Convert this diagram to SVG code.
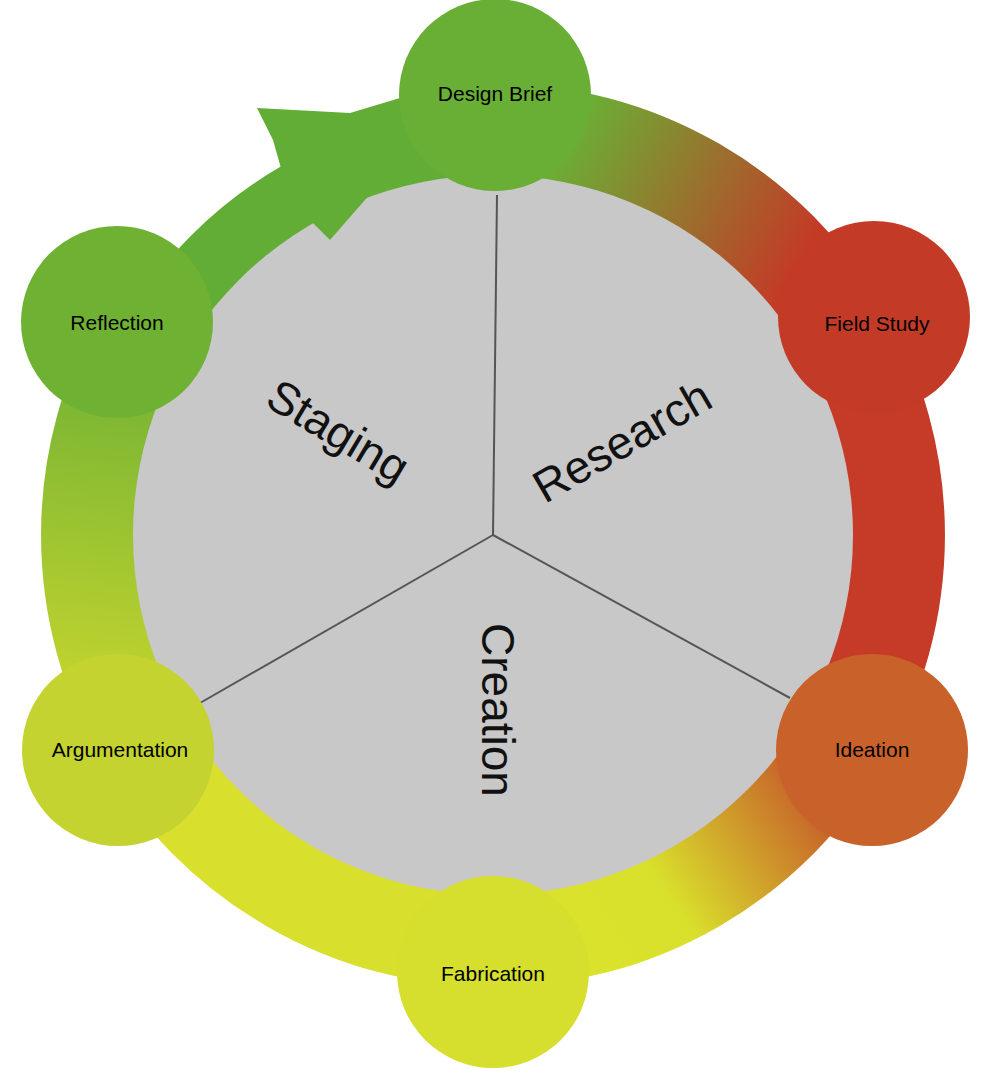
<svg xmlns="http://www.w3.org/2000/svg" width="983" height="1084" viewBox="0 0 983 1084">
<defs>
<linearGradient id="g1" gradientUnits="userSpaceOnUse" x1="570" y1="130" x2="800" y2="260"><stop offset="0" stop-color="#6aaf35"/><stop offset="1" stop-color="#c33b27"/></linearGradient>
<linearGradient id="g3" gradientUnits="userSpaceOnUse" x1="810" y1="790" x2="600" y2="930"><stop offset="0" stop-color="#c6602a"/><stop offset="0.7" stop-color="#d9e02c"/><stop offset="1" stop-color="#dbe22c"/></linearGradient>
<linearGradient id="g5" gradientUnits="userSpaceOnUse" x1="90" y1="700" x2="130" y2="360"><stop offset="0" stop-color="#c4d52e"/><stop offset="1" stop-color="#72b234"/></linearGradient>
<style>
.ring{fill:none;stroke-width:94}
.node{stroke:none}
.lbl{font-family:"Liberation Sans",Arial,sans-serif;font-size:21px;fill:#000;text-anchor:middle}
.big{font-family:"Liberation Sans",Arial,sans-serif;font-size:46px;fill:#111;text-anchor:middle}
</style>
</defs>
<rect width="983" height="1084" fill="#fff"/>
<g id="connectors">
<path class="ring" stroke="url(#g1)" d="M493 130 A405 405 0 0 1 843.7 332.5"/>
<path class="ring" stroke="#c63b27" d="M843.7 332.5 A405 405 0 0 1 843.7 737.5"/>
<path class="ring" stroke="url(#g3)" d="M843.7 737.5 A405 405 0 0 1 493 940"/>
<path class="ring" stroke="#d8df2d" d="M493 940 A405 405 0 0 1 142.3 737.5"/>
<path class="ring" stroke="url(#g5)" d="M142.3 737.5 A405 405 0 0 1 142.3 332.5"/>
<path fill="none" stroke="#62ad35" stroke-width="70" d="M155 340 A390 390 0 0 1 493 145"/>
</g>
<g id="center">
<circle cx="493" cy="535" r="360" fill="#c8c8c8"/>
<g stroke="#555" stroke-width="2">
<line x1="493" y1="535" x2="497" y2="195"/>
<line x1="493" y1="535" x2="790" y2="698"/>
<line x1="493" y1="535" x2="200" y2="703"/>
</g>
<text class="big" transform="translate(330,445) rotate(31)">Staging</text>
<text class="big" transform="translate(630,455) rotate(-30)">Research</text>
<text class="big" transform="translate(482,710) rotate(90)">Creation</text>
</g>
<polygon fill="#62ad35" points="257,108 350,113 400,98 430,170 378,185 330,240 290,200 273,140"/>
<g id="design-brief"><circle class="node" cx="495" cy="95" r="96" fill="#6aaf35"/><text class="lbl" x="495" y="101">Design Brief</text></g>
<g id="field-study"><circle class="node" cx="874" cy="317" r="96" fill="#c33b27"/><text class="lbl" x="877" y="331">Field Study</text></g>
<g id="ideation"><circle class="node" cx="872" cy="750" r="96" fill="#c9622a"/><text class="lbl" x="872" y="757">Ideation</text></g>
<g id="fabrication"><circle class="node" cx="493" cy="972" r="96" fill="#d6de2e"/><text class="lbl" x="493" y="981">Fabrication</text></g>
<g id="argumentation"><circle class="node" cx="118" cy="750" r="96" fill="#c4d32f"/><text class="lbl" x="120" y="757">Argumentation</text></g>
<g id="reflection"><circle class="node" cx="117" cy="322" r="96" fill="#6fb233"/><text class="lbl" x="117" y="330">Reflection</text></g>
</svg>
